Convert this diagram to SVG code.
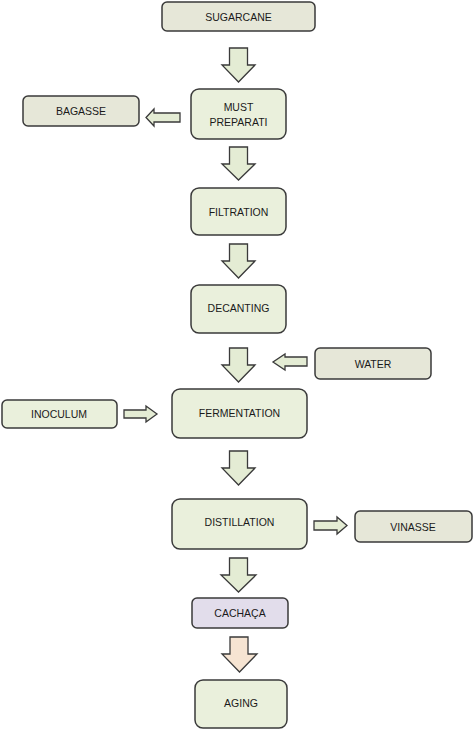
<svg xmlns="http://www.w3.org/2000/svg" width="474" height="731" viewBox="0 0 474 731">
<style>
.box{fill:#eaf0dc;stroke:#3a3a3a;stroke-width:1.5}
.side{fill:#e6e7d8;stroke:#3a3a3a;stroke-width:1.5}
.purple{fill:#e2ddeb;stroke:#3a3a3a;stroke-width:1.5}
.arr{fill:#e4ecd4;stroke:#3a3a3a;stroke-width:1.3;stroke-linejoin:miter}
.peach{fill:#f6e4d2;stroke:#3a3a3a;stroke-width:1.3}
text{font-family:"Liberation Sans",Arial,sans-serif;font-size:10.5px;fill:#1a1a1a;text-anchor:middle;dominant-baseline:central}
</style>
<rect width="474" height="731" fill="#ffffff"/>
<g id="connectors">
<path class="arr" d="M229.5,48 H247.5 V65 H255 L238.5,82 L222,65 H229.5 Z"/>
<path class="arr" d="M229.5,147 H247.5 V164 H255 L238.5,180 L222,164 H229.5 Z"/>
<path class="arr" d="M229.5,244 H247.5 V261 H255 L238.5,278 L222,261 H229.5 Z"/>
<path class="arr" d="M229.5,348 H247.5 V365 H255 L238.5,382 L222,365 H229.5 Z"/>
<path class="arr" d="M229.5,451 H247.5 V468 H255 L238.5,485 L222,468 H229.5 Z"/>
<path class="arr" d="M229.5,558 H247.5 V575 H256 L238.5,592 L221,575 H229.5 Z"/>
<path class="peach" d="M230,637 H248 V654 H257 L239.5,672 L222,654 H230 Z"/>
<path class="arr" d="M180,113 V122 H154 V126 L146,117.5 L154,109 V113 Z"/>
<path class="arr" d="M307,357 V366 H285 V370 L273,362 L285,354 V357 Z"/>
<path class="arr" d="M124,410 H146 V406 L157,414 L146,422 V418 H124 Z"/>
<path class="arr" d="M314,521 H337 V517 L347,525.5 L337,534 V530 H314 Z"/>
</g>
<g id="sugarcane"><rect class="side" x="162" y="2" width="153" height="29" rx="5"/><text x="238.5" y="16.5">SUGARCANE</text></g>
<g id="must"><rect class="box" x="191" y="89" width="95" height="50" rx="8"/><text x="238.5" y="107">MUST</text><text x="238.5" y="122">PREPARATI</text></g>
<g id="bagasse"><rect class="side" x="23" y="96" width="116" height="30" rx="5"/><text x="81" y="111">BAGASSE</text></g>
<g id="filtration"><rect class="box" x="191" y="188" width="95" height="47" rx="8"/><text x="238.5" y="211.5">FILTRATION</text></g>
<g id="decanting"><rect class="box" x="191" y="285" width="95" height="48" rx="8"/><text x="238.5" y="308">DECANTING</text></g>
<g id="water"><rect class="side" x="315" y="348" width="116" height="31" rx="5"/><text x="373" y="363.5">WATER</text></g>
<g id="inoculum"><rect class="box" x="2" y="400" width="115" height="28" rx="5"/><text x="59" y="414">INOCULUM</text></g>
<g id="fermentation"><rect class="box" x="172" y="389" width="135" height="49" rx="8"/><text x="239.5" y="413">FERMENTATION</text></g>
<g id="distillation"><rect class="box" x="172" y="499" width="135" height="50" rx="8"/><text x="239.5" y="522">DISTILLATION</text></g>
<g id="vinasse"><rect class="side" x="355" y="511" width="117" height="31" rx="5"/><text x="413" y="527">VINASSE</text></g>
<g id="cachaca"><rect class="purple" x="192" y="598" width="96" height="30" rx="5"/><text x="240" y="613">CACHAÇA</text></g>
<g id="aging"><rect class="box" x="195" y="680" width="92" height="48" rx="8"/><text x="241" y="703">AGING</text></g>
</svg>
